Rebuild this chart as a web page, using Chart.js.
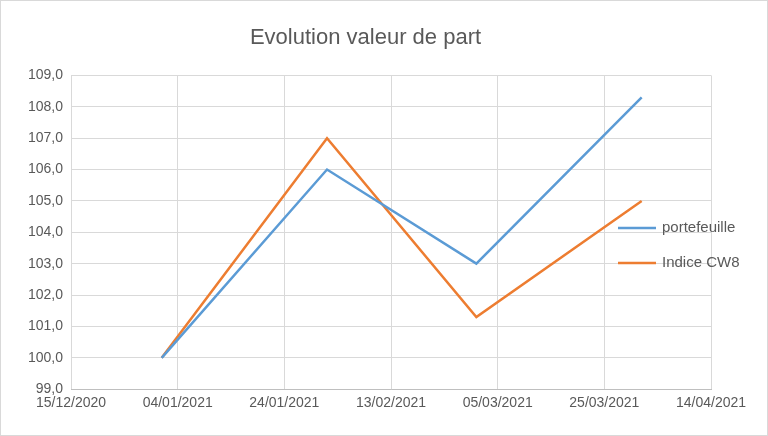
<!DOCTYPE html>
<html><head><meta charset="utf-8">
<script src="https://cdn.jsdelivr.net/npm/chart.js@4/dist/chart.umd.min.js"></script>
<style>html,body{margin:0;padding:0;background:#fff}#w{width:766px;height:434px;border:1px solid #d9d9d9;position:relative}</style>
</head><body><div id="w"><canvas id="c"></canvas></div>
<script>
const dates = ['2021-01-01','2021-02-01','2021-03-01','2021-04-01'];
const portefeuille = [100.0, 106.0, 103.0, 108.3];
const indiceCW8 = [100.0, 107.0, 101.3, 105.0];
const seriesNames = ['portefeuille','Indice CW8'];
const xMinDate = '2020-12-15', xMaxDate = '2021-04-14';
const yMin = 99, yMax = 109;

const ms = d => Date.parse(d + 'T00:00:00Z');
const DAY = 86400000;
const fmt = v => { const d = new Date(v); const p = n => String(n).padStart(2,'0'); return p(d.getUTCDate())+'/'+p(d.getUTCMonth()+1)+'/'+d.getUTCFullYear(); };
const colors = ['#5b9bd5','#ed7d31'];

const legendPlugin = {
  id:'lg',
  afterDraw(chart){
    const ctx = chart.ctx; ctx.save();
    const ys=[227,262];
    seriesNames.forEach((n,i)=>{
      ctx.strokeStyle=colors[i]; ctx.lineWidth=2.5;
      ctx.beginPath(); ctx.moveTo(617,ys[i]); ctx.lineTo(655,ys[i]); ctx.stroke();
      ctx.fillStyle='#595959'; ctx.font='15px "Liberation Sans", Arial'; ctx.textBaseline='middle';
      ctx.fillText(n,661,ys[i]);
    });
    ctx.restore();
  }
};

new Chart(document.getElementById('c'), {
  type:'line',
  data:{datasets:[
    {label:seriesNames[0],data:dates.map((d,i)=>({x:ms(d),y:portefeuille[i]})),borderColor:colors[0],backgroundColor:colors[0],borderWidth:2.5,pointRadius:0,tension:0},
    {label:seriesNames[1],data:dates.map((d,i)=>({x:ms(d),y:indiceCW8[i]})),borderColor:colors[1],backgroundColor:colors[1],borderWidth:2.5,pointRadius:0,tension:0}
  ]},
  options:{
    responsive:true, maintainAspectRatio:false, animation:false,
    layout:{padding:{left:19,right:56,top:8,bottom:17}},
    plugins:{
      legend:{display:false}, tooltip:{enabled:false},
      title:{display:true,text:'Evolution valeur de part',color:'#595959',font:{family:'"Liberation Sans", Arial',size:22,weight:'normal'},padding:{top:16,bottom:24}}
    },
    scales:{
      x:{type:'linear',min:ms(xMinDate),max:ms(xMaxDate),
        afterBuildTicks(ax){const t=[];for(let v=ms(xMinDate);v<=ms(xMaxDate);v+=20*DAY)t.push({value:v});ax.ticks=t;},
        ticks:{callback:v=>fmt(v),color:'#595959',font:{family:'"Liberation Sans", Arial',size:14},maxRotation:0,autoSkip:false,padding:6},
        grid:{color:'#d9d9d9',drawTicks:false},border:{color:'#bfbfbf'}},
      y:{min:yMin,max:yMax,
        ticks:{stepSize:1,callback:v=>v.toFixed(1).replace('.',','),color:'#595959',font:{family:'"Liberation Sans", Arial',size:14},padding:8},
        grid:{color:'#d9d9d9',drawTicks:false},border:{display:false}}
    }
  },
  plugins:[legendPlugin]
});
</script></body></html>
